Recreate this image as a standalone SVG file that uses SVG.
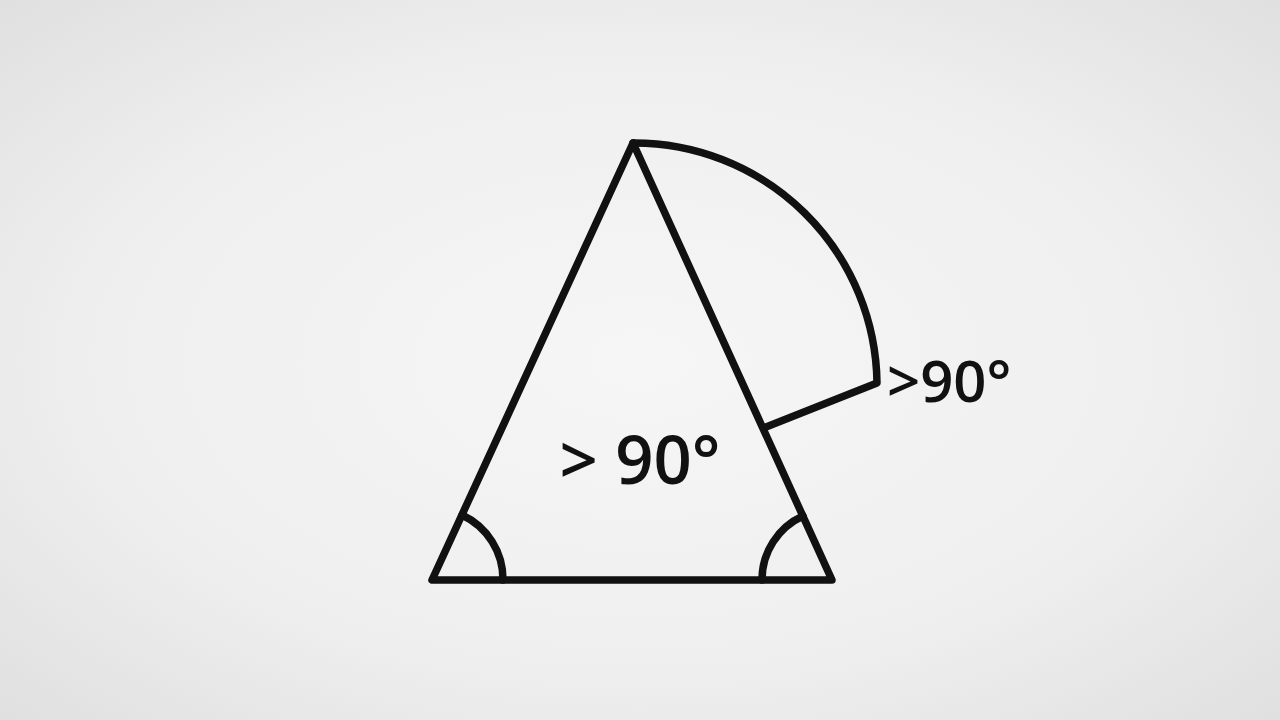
<svg xmlns="http://www.w3.org/2000/svg" width="1280" height="720" viewBox="0 0 1280 720">
<defs>
<radialGradient id="bg" cx="50%" cy="50%" r="70%">
<stop offset="0" stop-color="#f6f6f6"/>
<stop offset="0.6" stop-color="#efefef"/>
<stop offset="1" stop-color="#e0e0e0"/>
</radialGradient>
<style>
.ln{fill:none;stroke:#111;stroke-width:7.5;stroke-linejoin:round;stroke-linecap:round}
.t{font-family:"Open Sans","Noto Sans",sans-serif;font-weight:600;fill:#111}
</style>
</defs>
<rect width="1280" height="720" fill="url(#bg)"/>
<g id="triangle">
<path class="ln" d="M633 143 L432 580 L832 580 Z"/>
</g>
<g id="angle-left">
<path class="ln" d="M462 515 A71 71 0 0 1 503 580"/>
</g>
<g id="angle-right">
<path class="ln" d="M762 580 A70 70 0 0 1 803 516"/>
</g>
<g id="sector">
<path class="ln" d="M633 143 A243 243 0 0 1 877 383 L766 427"/>
</g>
<g id="label-center">
<text class="t" x="640" y="484" font-size="67" text-anchor="middle">&gt; 90°</text>
</g>
<g id="label-right">
<text class="t" x="887" y="402" font-size="58">&gt;90°</text>
</g>
</svg>
